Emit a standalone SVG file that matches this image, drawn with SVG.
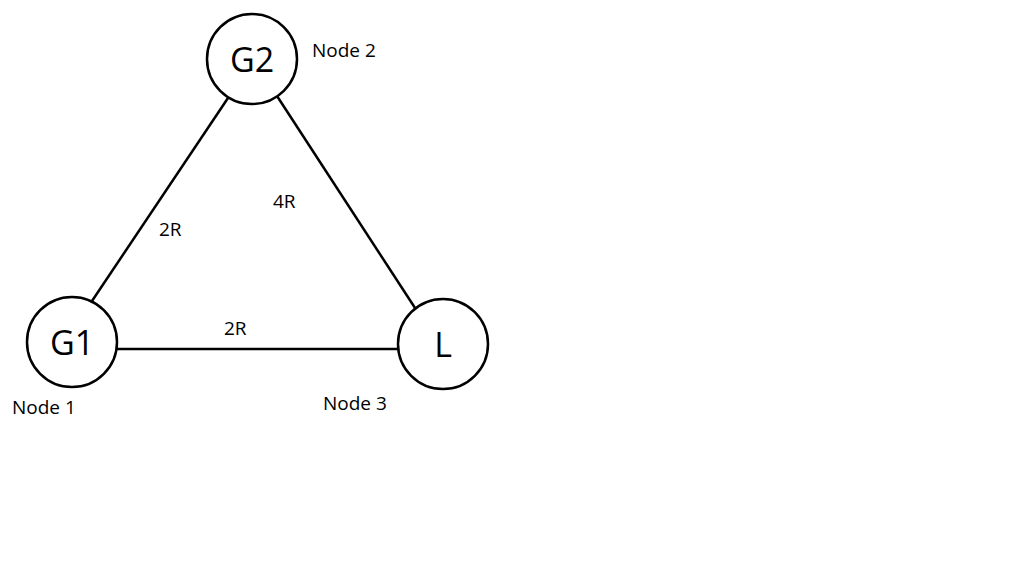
<svg xmlns="http://www.w3.org/2000/svg" width="1024" height="576" viewBox="0 0 1024 576">
<style>
.n{fill:#fff;stroke:#000;stroke-width:2.5}
.big{font-family:"Open Sans","Liberation Sans",sans-serif;font-size:34px;text-anchor:middle}
.sm{font-family:"Open Sans","Liberation Sans",sans-serif;font-size:19px}
line{stroke:#000;stroke-width:2.5}
</style>
<rect width="1024" height="576" fill="#fff"/>
<g id="connectors">
<line x1="228" y1="98" x2="92" y2="301"/>
<line x1="277" y1="96" x2="417" y2="311"/>
<line x1="117" y1="349" x2="399" y2="349"/>
<text class="sm" x="159" y="236">2R</text>
<text class="sm" x="273" y="208">4R</text>
<text class="sm" x="224" y="335">2R</text>
</g>
<g id="G2"><circle class="n" cx="252" cy="59" r="45"/><text class="big" x="252" y="72">G2</text><text class="sm" x="312" y="57">Node 2</text></g>
<g id="G1"><circle class="n" cx="72" cy="342" r="45"/><text class="big" x="72" y="355">G1</text><text class="sm" x="12" y="414">Node 1</text></g>
<g id="L"><circle class="n" cx="443" cy="344" r="45"/><text class="big" x="443" y="357">L</text><text class="sm" x="323" y="410">Node 3</text></g>
</svg>
